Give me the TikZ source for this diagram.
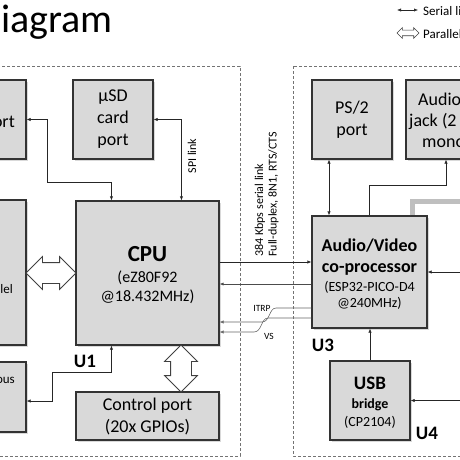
\documentclass[tikz,border=0pt]{standalone}
\usepackage{fontspec}
\setmainfont{Carlito}
\usetikzlibrary{arrows.meta,shapes.arrows,shadows}

\tikzset{>={Latex[length=4pt,width=3.2pt]}}

\begin{document}
\begin{tikzpicture}[x=1pt,y=-1pt,
    box/.style={draw=black!80, fill=black!15, line width=1.1pt, inner sep=0pt,
        drop shadow={opacity=.3, shadow xshift=1.5pt, shadow yshift=-1.5pt}},
    group/.style={draw=black!55, dash pattern=on 3pt off 2pt, line width=.6pt},
    ser/.style={draw=black!85, line width=.6pt},
    sig/.style={draw=black!60, line width=.6pt},
    par/.style={double arrow, draw=black!75, fill=white, line width=.8pt,
        inner xsep=0pt, inner ysep=10pt, double arrow head extend=6pt},
    txt/.style={inner sep=0pt, font=\fontsize{18}{22}\selectfont, align=center},
    sub/.style={inner sep=0pt, font=\fontsize{16}{19}\selectfont},
    small/.style={inner sep=0pt, font=\fontsize{14}{16}\selectfont},
    lbl/.style={inner sep=0pt, font=\fontsize{12}{14}\selectfont},
    unit/.style={inner sep=0pt, font=\fontsize{19}{22}\selectfont\bfseries}]
    \useasboundingbox (0,0) rectangle (460,460);
    \clip (0,0) rectangle (460,460);

    % title and legend
    \node[anchor=base west, inner sep=0pt, font=\fontsize{40}{44}\selectfont] (title) at (1,33) {iagram};
    \coordinate (ls1) at (397,10);
    \coordinate (ls2) at (418,10);
    \draw[ser,<->] (ls1) -- (ls2);
    \node[lbl, anchor=west, font=\fontsize{13}{15}\selectfont] (lgser) at (423,11) {Serial link};
    \node[par, line width=.6pt, inner ysep=2.5pt, double arrow head extend=2.5pt, minimum height=22pt] (lgpar) at (408,33) {};
    \node[lbl, anchor=west, font=\fontsize{13}{15}\selectfont] (lgpartxt) at (423,34) {Parallel link};

    % groups
    \draw[group] (-20,66) rectangle (240,456);
    \draw[group] (293,66) rectangle (500,456);

    % U1 side
    \node[box, minimum width=86pt, minimum height=79pt] (lport) at (-17,119.5) {};
    \node[txt, anchor=east] (lporttxt) at (15,122) {ort};
    \node[box, minimum width=86pt, minimum height=145pt] (lpar) at (-17,272.5) {};
    \node[small, font=\fontsize{13}{15}\selectfont, anchor=east] (lpartxt) at (13,289) {lel};
    \node[box, minimum width=86pt, minimum height=70pt] (lbus) at (-17,397) {};
    \node[small, font=\fontsize{13}{15}\selectfont, anchor=east] (lbustxt) at (15,380) {ous};

    \node[box, txt, minimum width=80pt, minimum height=79pt] (sd) at (113,119.5) {µSD\\card\\port};

    \node[box, minimum width=143pt, minimum height=144pt] (cpu) at (147.5,273) {};
    \node[inner sep=0pt, font=\fontsize{23}{26}\selectfont\bfseries] (cputxt) at (147.5,254) {CPU};
    \node[sub] (cpuchip) at (147.5,278) {(eZ80F92};
    \node[sub] (cpuclk) at (147.5,297) {@18.432MHz)};
    \node[unit] (u1) at (85,361) {U1};

    \node[box, txt, minimum width=143pt, minimum height=48pt] (ctrl) at (147.5,416) {Control port\\(20x GPIOs)};

    % U3 side
    \node[box, txt, minimum width=80pt, minimum height=79pt] (ps2) at (352,119.5) {PS/2\\port};
    \node[box, minimum width=80pt, minimum height=79pt] (jack) at (446,119.5) {};
    \node[txt, anchor=west] (jack1) at (418,99) {Audio};
    \node[txt, anchor=west] (jack2) at (409,121) {jack (2};
    \node[txt, anchor=west] (jack3) at (422,143) {mono};

    \node[box, minimum width=115pt, minimum height=112pt] (av) at (369.5,272) {};
    \node[inner sep=0pt, font=\fontsize{18}{21}\selectfont\bfseries, align=center] (avtxt) at (369.5,257.5) {Audio/Video\\co-processor};
    \node[small, align=center] (avchip) at (369.5,295.5) {(ESP32-PICO-D4\\@240MHz)};
    \node[unit] (u3) at (323,345) {U3};

    \node[box, minimum width=80pt, minimum height=79pt] (usb) at (370,400.5) {};
    \node[inner sep=0pt, font=\fontsize{19}{22}\selectfont\bfseries] (usbtxt) at (370,383) {USB};
    \node[inner sep=0pt, font=\fontsize{14}{16}\selectfont\bfseries] (usbsub) at (370,405) {bridge};
    \node[small] (usbchip) at (370,422) {(CP2104)};
    \node[unit] (u4) at (427,433) {U4};

    % serial links
    \draw[ser,<->] (lport.east) -| (47,182) -| ([xshift=36pt]cpu.north west);
    \draw[ser,<->] (sd.east) -| ([xshift=106pt]cpu.north west);
    \node[lbl, rotate=90] (spi) at (192,156) {SPI link};
    \draw[ser,<->] ([xshift=36pt]cpu.south west) |- (52,372) |- ([yshift=-4pt]lbus.east);

    \draw[ser,->] ([yshift=11pt]cpu.east) -- ([yshift=11pt]cpu.east -| av.west);
    \draw[draw=black!70, line width=1pt,->] (av.west |- 0,284) -- (cpu.east |- 0,284);
    \draw[sig,->] (av.west |- 0,308) -- (276,308) .. controls (269,308) and (270,322) .. (262,322) -- (cpu.east |- 0,322);
    \draw[sig,->] (av.west |- 0,318) -- (268,318) .. controls (261,318) and (262,332) .. (254,332) -- (cpu.east |- 0,332);
    \node[inner sep=0pt, font=\fontsize{9.5}{11}\selectfont] (itrp) at (262,308) {ITRP};
    \node[inner sep=0pt, font=\fontsize{9.5}{11}\selectfont] (vs) at (269,336) {VS};
    \node[lbl, rotate=90, anchor=west] (speed) at (260,257) {384 Kbps serial link};
    \node[lbl, rotate=90, anchor=west] (mode) at (273.5,257) {Full-duplex, 8N1, RTS/CTS};

    \draw[ser,<->] ([xshift=-23pt]ps2.south) -- ([xshift=-23pt]ps2.south |- av.north);
    \draw[ser,->] (av.north) |- ([yshift=-26pt]jack.south) -- (jack.south);
    \draw[black!25, line width=5pt] ([xshift=42.5pt]av.north) |- (470,201);
    \draw[ser,<-] (av.east) -- (470,272);
    \draw[ser,->] (usb.north) -- (usb.north |- av.south);
    \draw[ser,<-] (usb.east) -- (470,400.5);

    % parallel links
    \node[par, minimum height=50pt] (parl) at (51,273) {};
    \node[par, minimum height=47pt, rotate=90] (parc) at (181,368.5) {};
\end{tikzpicture}
\end{document}
